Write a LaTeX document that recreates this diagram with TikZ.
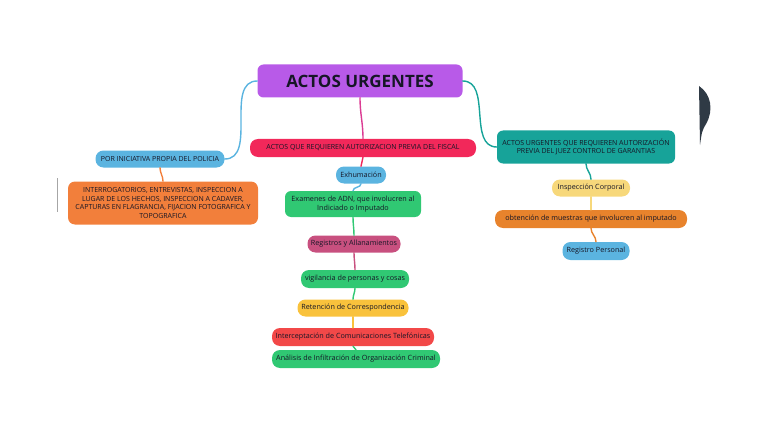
\documentclass[tikz,border=0pt]{standalone}
\usepackage{fontspec}
\setmainfont{Open Sans}
\usetikzlibrary{calc}

\definecolor{cPurple}{HTML}{B85AE8}
\definecolor{cBlue}{HTML}{5BB4E0}
\definecolor{cOrange}{HTML}{F27F3B}
\definecolor{cRed}{HTML}{F2285A}
\definecolor{cGreen}{HTML}{30C873}
\definecolor{cPink}{HTML}{C8507F}
\definecolor{cYellow}{HTML}{F9C23C}
\definecolor{cRedB}{HTML}{F24848}
\definecolor{cTeal}{HTML}{17A399}
\definecolor{cSand}{HTML}{F7D87B}
\definecolor{cAmber}{HTML}{E8832C}
\definecolor{ink}{HTML}{161626}
\definecolor{cDark}{HTML}{2F3A45}

\begin{document}
\begin{tikzpicture}[x=1pt,y=-1pt,
pill/.style={rounded corners=8pt,inner sep=0pt,minimum height=17pt,
  text=ink,font=\fontsize{7.2}{8.5}\selectfont},
caps/.style={font=\fontsize{7}{8.5}\selectfont},
link/.style={line width=1.4pt,line cap=round}]
\useasboundingbox (0,0) rectangle (768,433);

% centre
\node[pill,fill=cPurple,minimum width=205pt,minimum height=33pt,rounded corners=6pt,
  font=\bfseries\fontsize{17}{19}\selectfont] (root) at (360,81) {ACTOS URGENTES};

% left branch
\node[pill,caps,fill=cBlue,minimum width=129pt] (policia) at (160,159)
  {POR INICIATIVA PROPIA DEL POLICIA};
\node[pill,caps,fill=cOrange,minimum width=190pt,minimum height=43pt,rounded corners=7pt,
  align=center] (diligencias) at (163,203)
  {INTERROGATORIOS, ENTREVISTAS, INSPECCION A\\LUGAR DE LOS HECHOS, INSPECCION A CADAVER,\\
   CAPTURAS EN FLAGRANCIA, FIJACION FOTOGRAFICA Y\\TOPOGRAFICA};

% middle branch
\node[pill,caps,fill=cRed,minimum width=226pt,minimum height=18pt] (fiscal) at (363,148)
  {ACTOS QUE REQUIEREN AUTORIZACION PREVIA DEL FISCAL};
\node[pill,fill=cBlue,minimum width=50pt] (exhum) at (361,175) {Exhumación};
\node[pill,fill=cGreen,minimum width=136pt,minimum height=26pt,rounded corners=6pt,
  align=center] (adn) at (353,204)
  {Examenes de ADN, que involucren al\\Indiciado o Imputado};
\node[pill,fill=cPink,minimum width=93pt] (registros) at (354,244) {Registros y Allanamientos};
\node[pill,fill=cGreen,minimum width=108pt,minimum height=18pt] (vigilancia) at (355,279) {vigilancia de personas y cosas};
\node[pill,fill=cYellow,minimum width=111pt] (retencion) at (353,308) {Retención de Correspondencia};
\node[pill,fill=cRedB,minimum width=162pt,minimum height=18pt] (intercep) at (353,337)
  {Interceptación de Comunicaciones Telefónicas};
\node[pill,fill=cGreen,minimum width=168pt,minimum height=18pt] (analisis) at (356,359)
  {Análisis de Infiltración de Organización Criminal};

% right branch
\node[pill,caps,fill=cTeal,minimum width=178pt,minimum height=33pt,rounded corners=6pt,
  align=center] (juez) at (586,147)
  {ACTOS URGENTES QUE REQUIEREN AUTORIZACIÓN\\PREVIA DEL JUEZ CONTROL DE GARANTIAS};
\node[pill,fill=cSand,minimum width=78pt] (corporal) at (591,188) {Inspección Corporal};
\node[pill,fill=cAmber,minimum width=192pt,minimum height=18pt] (muestras) at (591,219)
  {obtención de muestras que involucren al imputado};
\node[pill,fill=cBlue,minimum width=67pt,minimum height=18pt] (personal) at (596,251) {Registro Personal};

% connectors
\draw[link,cBlue] (root.west) to[out=180,in=0] (policia.east);
\draw[link,cTeal] (root.east) to[out=0,in=180] (juez.west);
\draw[link,cRed!60!cPurple] (root.south) to[out=-90,in=90] (fiscal.north);
\draw[link,cOrange] (policia.south) to[out=-90,in=90] (diligencias.north);
\foreach \a/\b/\c in {fiscal/exhum/cRed,exhum/adn/cBlue,adn/registros/cGreen,
  registros/vigilancia/cPink,vigilancia/retencion/cGreen,retencion/intercep/cYellow,
  intercep/analisis/cGreen,juez/corporal/cTeal,corporal/muestras/cSand,muestras/personal/cAmber}
  \draw[link,\c] (\a.south) to[out=-90,in=90] (\b.north);

% stray marks
\draw[gray!70,line width=0.8pt] (57,178) -- (57,212);
\fill[cDark] (699,86) .. controls (711,94) and (714,110) .. (706,124)
  .. controls (702,131) .. (700,145) -- cycle;
\end{tikzpicture}
\end{document}
